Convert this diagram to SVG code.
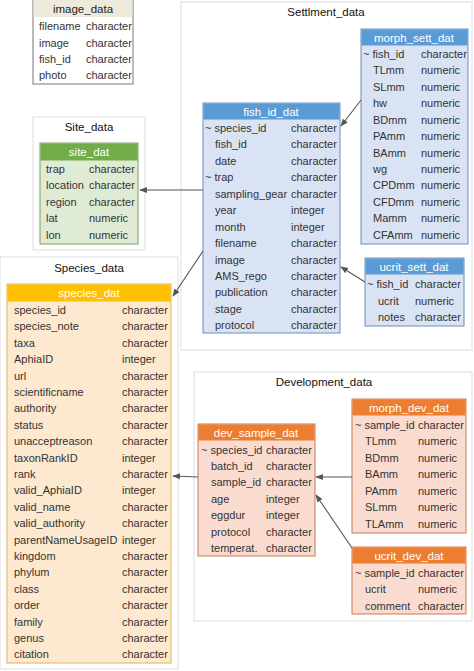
<svg xmlns="http://www.w3.org/2000/svg" width="474" height="671" viewBox="0 0 474 671">
<defs>
<marker id="ah" viewBox="0 0 10 10" refX="9" refY="5" markerWidth="7" markerHeight="7" orient="auto"><path d="M0,1 L10,5 L0,9 z" fill="#555"/></marker>
<style>
text{font-family:"Liberation Sans",Arial,sans-serif;font-size:11px;fill:#333;dominant-baseline:central}
.ttl{font-size:11.5px;fill:#111;text-anchor:middle}
.hd{fill:#fff;text-anchor:middle;font-size:11.5px}
.cl{fill:#fff;stroke:#e3e3e3;stroke-width:1.2}
.blue .b{fill:#dae3f3;stroke:#6a8fb8}.blue .h{fill:#5b9bd5}
.or .b{fill:#f9dccf;stroke:#c97b55}.or .h{fill:#ed7d31}
.ye .b{fill:#fde9cf;stroke:#d9b45a}.ye .h{fill:#ffc000}
.gr .b{fill:#e0ebd6;stroke:#7a9e5e}.gr .h{fill:#70ad47}
.gy .b{fill:#fff;stroke:#777}.gy .h{fill:#eeeadb}
.gy .hd{fill:#222}
.c{stroke:#555;stroke-width:1.1;fill:none;marker-end:url(#ah)}
</style>
</defs>
<rect class="cl" x="181" y="2" width="291" height="348"/>
<text class="ttl" x="326" y="12">Settlment_data</text>
<rect class="cl" x="33" y="117" width="112" height="133"/>
<text class="ttl" x="89" y="127">Site_data</text>
<rect class="cl" x="0" y="257" width="178" height="412"/>
<text class="ttl" x="89" y="268">Species_data</text>
<rect class="cl" x="194" y="372" width="278" height="249"/>
<text class="ttl" x="324" y="382">Development_data</text>

<g id="image_data" class="gy">
<rect class="b" x="33" y="-1" width="100" height="85"/><rect class="h" x="33.5" y="0" width="99" height="17"/>
<text class="hd" x="83" y="9">image_data</text>
<text x="39" y="26">filename</text><text x="86" y="26">character</text>
<text x="39" y="43">image</text><text x="86" y="43">character</text>
<text x="39" y="59">fish_id</text><text x="86" y="59">character</text>
<text x="39" y="75">photo</text><text x="86" y="75">character</text>
</g>

<g id="site_dat" class="gr">
<rect class="b" x="40" y="143" width="98" height="101"/><rect class="h" x="40.5" y="143.5" width="97" height="17"/>
<text class="hd" x="89" y="152">site_dat</text>
<text x="46" y="169">trap</text><text x="89" y="169">character</text>
<text x="46" y="185">location</text><text x="89" y="185">character</text>
<text x="46" y="202">region</text><text x="89" y="202">character</text>
<text x="46" y="218">lat</text><text x="89" y="218">numeric</text>
<text x="46" y="235">lon</text><text x="89" y="235">numeric</text>
</g>

<g id="fish_id_dat" class="blue">
<rect class="b" x="203" y="103" width="137" height="230"/><rect class="h" x="203.5" y="103.5" width="136" height="16"/>
<text class="hd" x="271" y="112">fish_id_dat</text>
<text x="205" y="128">~ species_id</text><text x="291" y="128">character</text>
<text x="215" y="144">fish_id</text><text x="291" y="144">character</text>
<text x="215" y="161">date</text><text x="291" y="161">character</text>
<text x="205" y="177">~ trap</text><text x="291" y="177">character</text>
<text x="215" y="194">sampling_gear</text><text x="291" y="194">character</text>
<text x="215" y="210">year</text><text x="291" y="210">integer</text>
<text x="215" y="227">month</text><text x="291" y="227">integer</text>
<text x="215" y="243">filename</text><text x="291" y="243">character</text>
<text x="215" y="260">image</text><text x="291" y="260">character</text>
<text x="215" y="276">AMS_rego</text><text x="291" y="276">character</text>
<text x="215" y="292">publication</text><text x="291" y="292">character</text>
<text x="215" y="309">stage</text><text x="291" y="309">character</text>
<text x="215" y="325">protocol</text><text x="291" y="325">character</text>
</g>

<g id="morph_sett_dat" class="blue">
<rect class="b" x="361" y="29" width="107" height="215"/><rect class="h" x="361.5" y="29.5" width="106" height="16"/>
<text class="hd" x="414" y="38">morph_sett_dat</text>
<text x="363" y="54">~ fish_id</text><text x="421" y="54">character</text>
<text x="373" y="70">TLmm</text><text x="421" y="70">numeric</text>
<text x="373" y="87">SLmm</text><text x="421" y="87">numeric</text>
<text x="373" y="103">hw</text><text x="421" y="103">numeric</text>
<text x="373" y="120">BDmm</text><text x="421" y="120">numeric</text>
<text x="373" y="136">PAmm</text><text x="421" y="136">numeric</text>
<text x="373" y="153">BAmm</text><text x="421" y="153">numeric</text>
<text x="373" y="169">wg</text><text x="421" y="169">numeric</text>
<text x="373" y="185">CPDmm</text><text x="421" y="185">numeric</text>
<text x="373" y="202">CFDmm</text><text x="421" y="202">numeric</text>
<text x="373" y="218">Mamm</text><text x="421" y="218">numeric</text>
<text x="373" y="235">CFAmm</text><text x="421" y="235">numeric</text>
</g>

<g id="ucrit_sett_dat" class="blue">
<rect class="b" x="365" y="258" width="99" height="68"/><rect class="h" x="365.5" y="258.5" width="98" height="16"/>
<text class="hd" x="414" y="267">ucrit_sett_dat</text>
<text x="367" y="284">~ fish_id</text><text x="415" y="284">character</text>
<text x="378" y="301">ucrit</text><text x="415" y="301">numeric</text>
<text x="378" y="317">notes</text><text x="415" y="317">character</text>
</g>

<g id="species_dat" class="ye">
<rect class="b" x="7" y="284" width="164" height="379"/><rect class="h" x="7.5" y="284.5" width="163" height="17"/>
<text class="hd" x="89" y="293">species_dat</text>
<text x="14" y="310">species_id</text><text x="122" y="310">character</text>
<text x="14" y="326.4">species_note</text><text x="122" y="326.4">character</text>
<text x="14" y="342.8">taxa</text><text x="122" y="342.8">character</text>
<text x="14" y="359.2">AphiaID</text><text x="122" y="359.2">integer</text>
<text x="14" y="375.6">url</text><text x="122" y="375.6">character</text>
<text x="14" y="392">scientificname</text><text x="122" y="392">character</text>
<text x="14" y="408.4">authority</text><text x="122" y="408.4">character</text>
<text x="14" y="424.8">status</text><text x="122" y="424.8">character</text>
<text x="14" y="441.2">unacceptreason</text><text x="122" y="441.2">character</text>
<text x="14" y="457.6">taxonRankID</text><text x="122" y="457.6">integer</text>
<text x="14" y="474">rank</text><text x="122" y="474">character</text>
<text x="14" y="490.4">valid_AphiaID</text><text x="122" y="490.4">integer</text>
<text x="14" y="506.8">valid_name</text><text x="122" y="506.8">character</text>
<text x="14" y="523.2">valid_authority</text><text x="122" y="523.2">character</text>
<text x="14" y="539.6">parentNameUsageID</text><text x="122" y="539.6">integer</text>
<text x="14" y="556">kingdom</text><text x="122" y="556">character</text>
<text x="14" y="572.4">phylum</text><text x="122" y="572.4">character</text>
<text x="14" y="588.8">class</text><text x="122" y="588.8">character</text>
<text x="14" y="605.2">order</text><text x="122" y="605.2">character</text>
<text x="14" y="621.6">family</text><text x="122" y="621.6">character</text>
<text x="14" y="638">genus</text><text x="122" y="638">character</text>
<text x="14" y="654.4">citation</text><text x="122" y="654.4">character</text>
</g>

<g id="dev_sample_dat" class="or">
<rect class="b" x="198" y="424" width="117" height="132"/><rect class="h" x="198.5" y="424.5" width="116" height="16"/>
<text class="hd" x="256" y="433">dev_sample_dat</text>
<text x="201" y="450">~ species_id</text><text x="266" y="450">character</text>
<text x="211" y="466">batch_id</text><text x="266" y="466">character</text>
<text x="211" y="482">sample_id</text><text x="266" y="482">character</text>
<text x="211" y="499">age</text><text x="266" y="499">integer</text>
<text x="211" y="515">eggdur</text><text x="266" y="515">integer</text>
<text x="211" y="532">protocol</text><text x="266" y="532">character</text>
<text x="211" y="548">temperat.</text><text x="266" y="548">character</text>
</g>

<g id="morph_dev_dat" class="or">
<rect class="b" x="352" y="399" width="114" height="134"/><rect class="h" x="352.5" y="399.5" width="113" height="16"/>
<text class="hd" x="409" y="408">morph_dev_dat</text>
<text x="355" y="425">~ sample_id</text><text x="418" y="425">character</text>
<text x="365" y="441">TLmm</text><text x="418" y="441">numeric</text>
<text x="365" y="458">BDmm</text><text x="418" y="458">numeric</text>
<text x="365" y="474">BAmm</text><text x="418" y="474">numeric</text>
<text x="365" y="491">PAmm</text><text x="418" y="491">numeric</text>
<text x="365" y="507">SLmm</text><text x="418" y="507">numeric</text>
<text x="365" y="524">TLAmm</text><text x="418" y="524">numeric</text>
</g>

<g id="ucrit_dev_dat" class="or">
<rect class="b" x="352" y="547" width="114" height="67"/><rect class="h" x="352.5" y="547.5" width="113" height="16"/>
<text class="hd" x="409" y="556">ucrit_dev_dat</text>
<text x="355" y="573">~ sample_id</text><text x="418" y="573">character</text>
<text x="365" y="589">ucrit</text><text x="418" y="589">numeric</text>
<text x="365" y="606">comment</text><text x="418" y="606">character</text>
</g>

<g id="connectors">
<path class="c" d="M203,190 L140,190"/>
<path class="c" d="M203,251 L173,296"/>
<path class="c" d="M361,100 L341,126"/>
<path class="c" d="M365,282 L341,267"/>
<path class="c" d="M198,477 L173,476"/>
<path class="c" d="M352,477 L316,477"/>
<path class="c" d="M352,548 L316,495"/>
</g>
</svg>
